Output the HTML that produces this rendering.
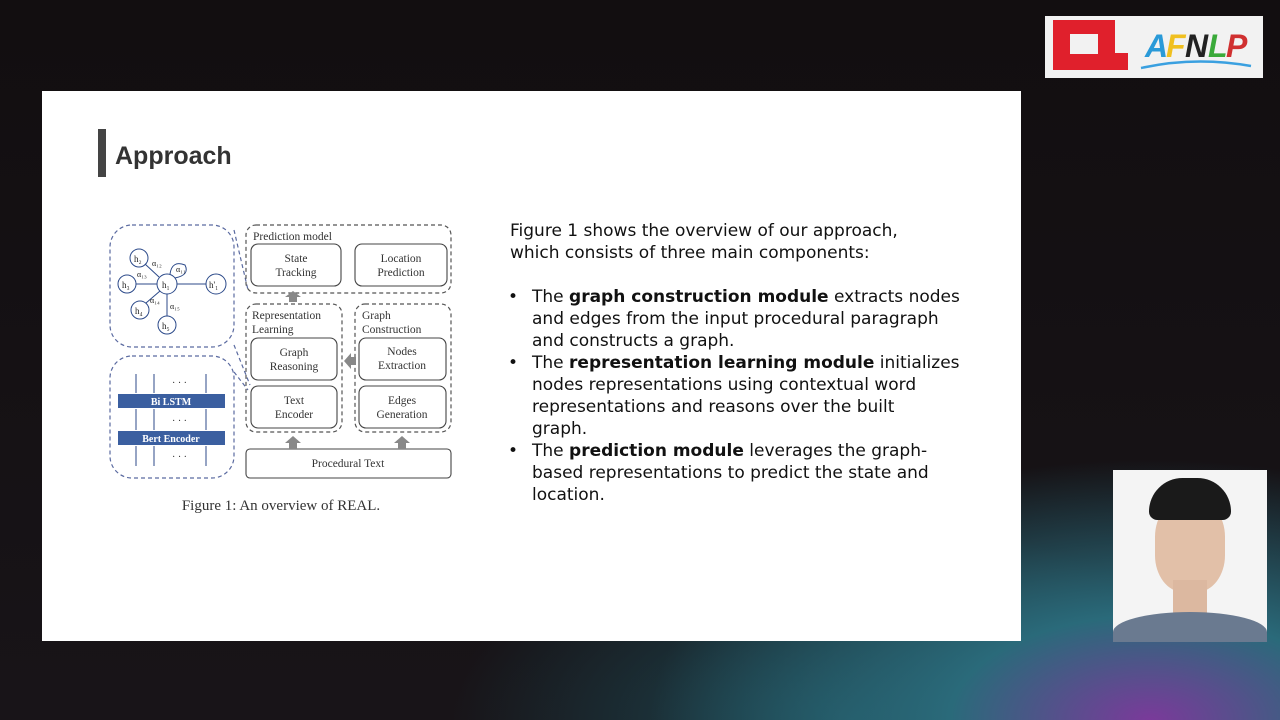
<!DOCTYPE html>
<html><head><meta charset="utf-8"><style>
body{margin:0;width:1280px;height:720px;overflow:hidden;position:relative;font-family:"Liberation Sans",sans-serif;
background:radial-gradient(ellipse 500px 260px at 1150px 720px,#7a3a9a 0%,#2a6a7a 40%,rgba(20,20,25,0) 100%),radial-gradient(ellipse 400px 200px at 850px 720px,#1e4a55 0%,rgba(0,0,0,0) 100%),linear-gradient(#120e10,#181418);}
.slide{position:absolute;left:42px;top:91px;width:979px;height:550px;background:#fff;}
.t{position:absolute;font-family:"DejaVu Sans",sans-serif;font-size:17px;color:#111;line-height:22px;}
</style></head><body>
<div style="position:absolute;left:1045px;top:16px;width:218px;height:62px;background:#f2f2f2;"></div>
<svg style="position:absolute;left:1045px;top:16px" width="218" height="62">
<path d="M8 4 H70 V37 H83 V54 H8 Z" fill="#e0202c"/><rect x="25" y="18" width="28" height="20" fill="#f2f2f2"/>
<g font-family="Liberation Sans" font-style="italic" font-weight="bold" font-size="32">
<text x="100" y="41" fill="#2a9ad8">A</text>
<text x="121" y="41" fill="#f0c020">F</text>
<text x="140" y="41" fill="#222">N</text>
<text x="163" y="41" fill="#3aaa3a">L</text>
<text x="181" y="41" fill="#d03030">P</text></g>
<path d="M96 52 Q150 40 206 50" stroke="#3aa0e0" stroke-width="2.5" fill="none"/>
</svg>
<div class="slide">
<div style="position:absolute;left:56px;top:38px;width:8px;height:48px;background:#444"></div>
<div style="position:absolute;left:73px;top:51px;font-size:25px;font-weight:bold;color:#333">Approach</div>
<div class="t" style="left:468px;top:129px">Figure 1 shows the overview of our approach,<br>which consists of three main components:</div>
<div class="t" style="left:466px;top:195px">•</div><div class="t" style="left:490px;top:195px">The <b>graph construction module</b> extracts nodes<br>and edges from the input procedural paragraph<br>and constructs a graph.</div>
<div class="t" style="left:466px;top:261px">•</div><div class="t" style="left:490px;top:261px">The <b>representation learning module</b> initializes<br>nodes representations using contextual word<br>representations and reasons over the built<br>graph.</div>
<div class="t" style="left:466px;top:349px">•</div><div class="t" style="left:490px;top:349px">The <b>prediction module</b> leverages the graph-<br>based representations to predict the state and<br>location.</div>
</div>
<svg style="position:absolute;left:0;top:0" width="1280" height="720" font-family="Liberation Serif" font-size="11.5" fill="#333">
<g fill="none" stroke="#5a6aa0" stroke-width="1.2" stroke-dasharray="4,3">
<rect x="110" y="225" width="124" height="122" rx="22"/>
<rect x="110" y="356" width="124" height="122" rx="22"/>
<path d="M234 230 L248 290 M234 345 L250 385 M234 372 L248 390"/>
</g>
<g fill="none" stroke="#555" stroke-width="1.2" stroke-dasharray="4,3">
<rect x="246" y="225" width="205" height="68" rx="10"/>
<rect x="246" y="304" width="96" height="128" rx="10"/>
<rect x="355" y="304" width="96" height="128" rx="10"/>
</g>
<g fill="#fff" stroke="#444" stroke-width="1.1">
<rect x="251" y="244" width="90" height="42" rx="7"/><rect x="355" y="244" width="92" height="42" rx="7"/>
<rect x="251" y="338" width="86" height="42" rx="7"/><rect x="251" y="386" width="86" height="42" rx="7"/>
<rect x="359" y="338" width="87" height="42" rx="7"/><rect x="359" y="386" width="87" height="42" rx="7"/>
<rect x="246" y="449" width="205" height="29" rx="4"/>
</g>
<g fill="#888"><path d="M289 302 h8 v-5 h4 l-8 -6 -8 6 h4z"/><path d="M289 449 h8 v-6 h4 l-8 -7 -8 7 h4z"/><path d="M398 449 h8 v-6 h4 l-8 -7 -8 7 h4z"/><path d="M356 361 v8 h-5 v4 l-7 -8 7 -8 v4z" transform="translate(0,-4)"/></g>
<text x="253" y="240">Prediction model</text>
<text x="296" y="262" text-anchor="middle">State</text><text x="296" y="276" text-anchor="middle">Tracking</text>
<text x="401" y="262" text-anchor="middle">Location</text><text x="401" y="276" text-anchor="middle">Prediction</text>
<text x="252" y="319">Representation</text><text x="252" y="333">Learning</text>
<text x="362" y="319">Graph</text><text x="362" y="333">Construction</text>
<text x="294" y="356" text-anchor="middle">Graph</text><text x="294" y="370" text-anchor="middle">Reasoning</text>
<text x="294" y="404" text-anchor="middle">Text</text><text x="294" y="418" text-anchor="middle">Encoder</text>
<text x="402" y="355" text-anchor="middle">Nodes</text><text x="402" y="369" text-anchor="middle">Extraction</text>
<text x="402" y="404" text-anchor="middle">Edges</text><text x="402" y="418" text-anchor="middle">Generation</text>
<text x="348" y="467" text-anchor="middle">Procedural Text</text>
<text x="281" y="510" text-anchor="middle" font-size="15">Figure 1: An overview of REAL.</text>
<g stroke="#2c4a8a" stroke-width="1" fill="#fff">
<circle cx="139" cy="258" r="9"/><circle cx="127" cy="284" r="9"/><circle cx="167" cy="284" r="10"/><circle cx="140" cy="310" r="9"/><circle cx="167" cy="325" r="9"/><circle cx="216" cy="284" r="10"/>
<path d="M136 284 H157 M177 284 H206 M167 316 V294 M146 303 L160 291 M145 264 L159 277 M170 274 Q172 260 185 265 Q190 275 175 278" fill="none"/>
</g>
<g font-size="9" fill="#222"><text x="134" y="262">h₂</text><text x="122" y="288">h₃</text><text x="162" y="288">h₁</text><text x="135" y="314">h₄</text><text x="162" y="329">h₅</text><text x="209" y="288">h'₁</text>
<text x="152" y="266" font-size="8">α₁₂</text><text x="137" y="277" font-size="8">α₁₃</text><text x="176" y="272" font-size="8">α₁₁</text><text x="150" y="303" font-size="8">α₁₄</text><text x="170" y="309" font-size="8">α₁₅</text></g>
<rect x="118" y="394" width="107" height="14" fill="#3b5fa0"/><rect x="118" y="431" width="107" height="14" fill="#3b5fa0"/>
<text x="171" y="405" text-anchor="middle" fill="#fff" font-weight="bold" font-size="10">Bi LSTM</text>
<text x="171" y="442" text-anchor="middle" fill="#fff" font-weight="bold" font-size="10">Bert Encoder</text>
<g stroke="#2c4a8a" stroke-width="1"><path d="M136 466V446 M154 466V446 M206 466V446 M136 430V409 M154 430V409 M206 430V409 M136 393V374 M154 393V374 M206 393V374"/></g>
<g font-size="10" fill="#333"><text x="172" y="386">· · ·</text><text x="172" y="424">· · ·</text><text x="172" y="460">· · ·</text></g>
</svg>
<div style="position:absolute;left:1113px;top:470px;width:154px;height:172px;background:#f4f4f4;overflow:hidden">
<div style="position:absolute;left:42px;top:30px;width:70px;height:92px;border-radius:40%;background:#e2c0a8"></div>
<div style="position:absolute;left:36px;top:8px;width:82px;height:42px;border-radius:40px 40px 10px 10px;background:#1a1a1a"></div>
<div style="position:absolute;left:60px;top:110px;width:34px;height:40px;background:#dcb8a0"></div>
<div style="position:absolute;left:0;top:142px;width:154px;height:40px;border-radius:50% 50% 0 0;background:#6a7a90"></div>
</div>
</body></html>
